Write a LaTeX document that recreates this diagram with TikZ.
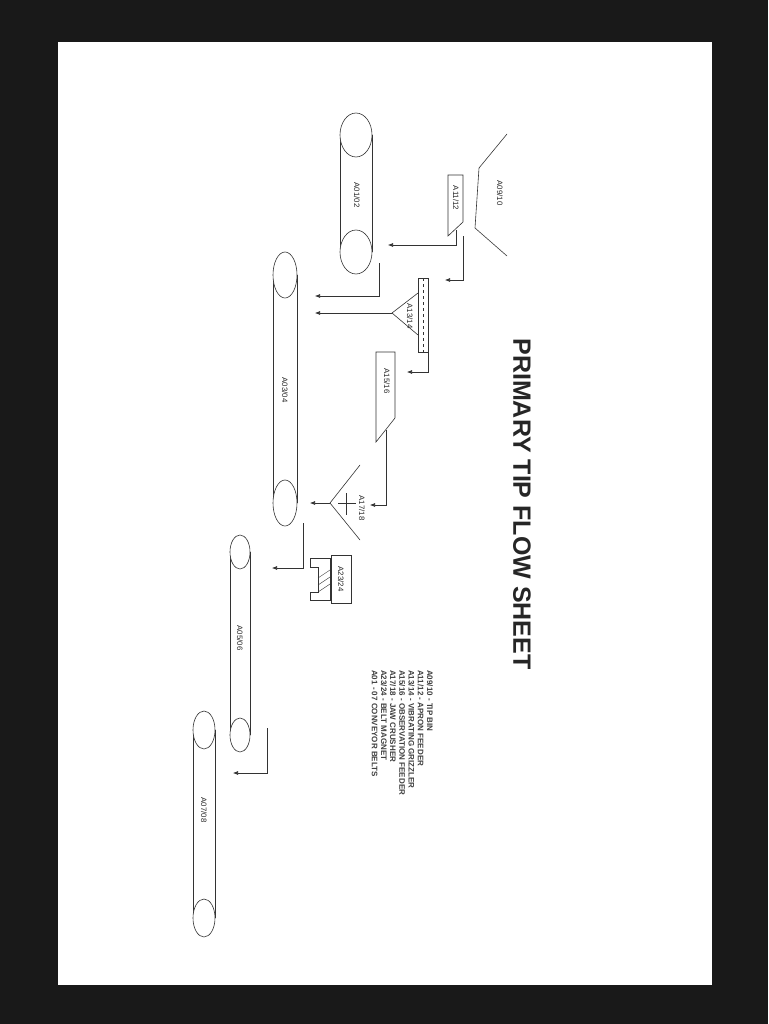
\documentclass[tikz,border=0pt]{standalone}
\usepackage{fontspec}
\setmainfont{Liberation Sans}
\usetikzlibrary{arrows.meta}
\begin{document}
\begin{tikzpicture}[x=1pt,y=-1pt,
  ln/.style={draw=black!80,line width=0.6pt},
  flow/.style={ln,-{Latex[length=5pt,width=4pt]}},
  lbl/.style={rotate=-90,font=\fontsize{7.8}{8}\selectfont,inner sep=0pt,text=black!85}]
\useasboundingbox (0,0) rectangle (768,1024);
\fill[black!90] (0,0) rectangle (768,1024);
\fill[white] (58,42) rectangle (712,985);
% belts
\newcommand\belt[6]{% name, x, y1, y2, rx, ry
  \draw[ln] (#2-#5,#3) -- (#2-#5,#4) (#2+#5,#3) -- (#2+#5,#4);
  \draw[ln,fill=white] (#2,#3) ellipse[x radius=#5,y radius=#6];
  \draw[ln,fill=white] (#2,#4) ellipse[x radius=#5,y radius=#6];
  \coordinate (#1) at (#2,{(#3+#4)/2});}
\belt{b1}{356}{135}{252}{16}{22}
\node[lbl] (t1) at (357,195) {A01/02};
\belt{b3}{285}{275}{503}{12}{23}
\node[lbl] (t3) at (285,390) {A03/04};
\belt{b5}{240}{552}{735}{10}{17}
\node[lbl] (t5) at (240,638) {A05/06};
\belt{b7}{204}{730}{918}{11}{19}
\node[lbl] (t7) at (204,810) {A07/08};
% tip bin
\draw[ln] (507,134) -- (479,168) -- (475,228) -- (507,256);
\node[lbl] (tb) at (500,193) {A09/10};
% apron feeder
\draw[ln] (448,175) -- (463,175) -- (463,222) -- (448,236) -- cycle;
\node[lbl] (af) at (456,198) {A11/12};
\coordinate (af1) at (456,230);
\coordinate (af2) at (456,245);
\coordinate (af3) at (388,245);
\draw[flow] (af1) -- (af2) -- (af3);
\coordinate (tb1) at (463,236);
\coordinate (tb2) at (463,280);
\coordinate (tb3) at (445,280);
\draw[flow] (tb1) -- (tb2) -- (tb3);
\coordinate (b1a) at (379,263);
\coordinate (b1b) at (379,296);
\coordinate (b1c) at (315,296);
\draw[flow] (b1a) -- (b1b) -- (b1c);
% grizzly
\draw[ln] (418,278) rectangle (428,352);
\draw[ln,dashed,line width=0.4pt] (423,278) -- (423,352);
\draw[ln] (418,293) -- (392,313) -- (418,335);
\node[lbl] (gz) at (410,316) {A13/14};
\coordinate (gz1) at (392,313);
\coordinate (gz2) at (315,313);
\draw[flow] (gz1) -- (gz2);
\coordinate (gz3) at (428,352);
\coordinate (gz4) at (428,372);
\coordinate (gz5) at (407,372);
\draw[flow] (gz3) -- (gz4) -- (gz5);
% observation feeder
\draw[ln] (376,352) -- (395,352) -- (395,418) -- (376,442) -- cycle;
\node[lbl] (of) at (387,381) {A15/16};
\coordinate (of1) at (386,430);
\coordinate (of2) at (386,505);
\coordinate (of3) at (370,505);
\draw[flow] (of1) -- (of2) -- (of3);
% jaw crusher
\draw[ln] (360,465) -- (330,503) -- (360,540);
\draw[ln] (346,493) -- (346,515) (338,503) -- (356,503);
\node[lbl] (jc) at (362,508) {A17/18};
\coordinate (jc1) at (330,503);
\coordinate (jc2) at (310,503);
\draw[flow] (jc1) -- (jc2);
% belt 3 discharge
\coordinate (b3a) at (303,523);
\coordinate (b3b) at (303,568);
\coordinate (b3c) at (272,568);
\draw[flow] (b3a) -- (b3b) -- (b3c);
% magnet
\draw[ln] (331,555) rectangle (351,603);
\node[lbl] (mg) at (341,579) {A23/24};
\draw[ln] (310,558) -- (330,558) -- (330,600) -- (310,600) -- (310,592) -- (318,592) -- (318,567) -- (310,567) -- cycle;
\draw[ln,line width=0.4pt] (318,578) -- (330,570) (318,585) -- (330,577) (318,592) -- (330,584);
% belt 5 discharge
\coordinate (b5a) at (267,728);
\coordinate (b5b) at (267,773);
\coordinate (b5c) at (233,773);
\draw[flow] (b5a) -- (b5b) -- (b5c);
% title
\node[rotate=-90,font=\bfseries\fontsize{25}{25}\selectfont,inner sep=0pt,text=black!85] (title) at (522,504) {PRIMARY TIP FLOW SHEET};
% legend
\node[rotate=-90,anchor=north west,inner sep=0pt,align=left,font=\bfseries\fontsize{8}{9.2}\selectfont,text=black!75] (leg) at (433,670) {A09/10 - TIP BIN\\A11/12 - APRON FEEDER\\A13/14 - VIBRATING GRIZZLER\\A15/16 - OBSERVATION FEEDER\\A17/18 - JAW CRUSHER\\A23/24 - BELT MAGNET\\A01 - 07 CONVEYOR BELTS};
\end{tikzpicture}
\end{document}
